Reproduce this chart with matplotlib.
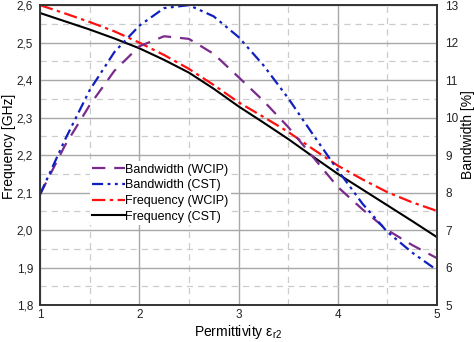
import numpy as np
import matplotlib
matplotlib.use("Agg")
import matplotlib.pyplot as plt
from matplotlib.ticker import FuncFormatter, MultipleLocator

plt.rcParams['font.family'] = ['Liberation Sans', 'DejaVu Sans']
plt.rcParams['mathtext.fontset'] = 'custom'
plt.rcParams['mathtext.rm'] = 'Liberation Sans'
plt.rcParams['mathtext.it'] = 'Liberation Sans:italic'

# permittivity sweep
eps = [1, 1.25, 1.5, 1.75, 2, 2.25, 2.5, 2.75, 3, 3.25, 3.5, 3.75, 4, 4.25, 4.5, 4.75, 5]

# bandwidth [%]
bw_wcip = [7.95, 9.25, 10.33, 11.25, 11.9, 12.17, 12.1, 11.7, 11.08, 10.45, 9.75, 8.95, 8.15, 7.55, 7.0, 6.6, 6.25]
bw_cst = [7.95, 9.4, 10.73, 11.75, 12.45, 12.92, 13.0, 12.7, 12.15, 11.4, 10.52, 9.55, 8.6, 7.7, 6.95, 6.4, 5.93]

# resonant frequency [GHz]
f_wcip = [2.600, 2.578, 2.555, 2.530, 2.500, 2.467, 2.430, 2.387, 2.341, 2.302, 2.262, 2.216, 2.172, 2.135, 2.101, 2.074, 2.051]
f_cst = [2.579, 2.557, 2.535, 2.511, 2.485, 2.454, 2.420, 2.377, 2.330, 2.287, 2.243, 2.196, 2.150, 2.108, 2.066, 2.024, 1.981]

fig = plt.figure(figsize=(4.74, 3.42), dpi=100)
ax = fig.add_axes([0.0844, 0.108, 0.8376, 0.877])
ax2 = ax.twinx()

l1, = ax2.plot(eps, bw_wcip, color='#7a2a8c', lw=1.6, dashes=(6, 4))
l2, = ax2.plot(eps, bw_cst, color='#1020c0', lw=1.6, dashes=(5, 2, 1.3, 2, 1.3, 2))
l3, = ax.plot(eps, f_wcip, color='#ff1010', lw=1.6, dashes=(6, 2, 1.5, 2))
l4, = ax.plot(eps, f_cst, color='black', lw=1.5)

ax.set_xlim(1, 5)
ax.set_ylim(1.8, 2.6)
ax2.set_ylim(5, 13)

ax.xaxis.set_major_locator(MultipleLocator(1))
ax.xaxis.set_minor_locator(MultipleLocator(0.5))
ax.yaxis.set_major_locator(MultipleLocator(0.1))
ax.yaxis.set_minor_locator(MultipleLocator(0.05))
ax2.yaxis.set_major_locator(MultipleLocator(1))

ax.yaxis.set_major_formatter(FuncFormatter(lambda v, p: f"{v:.1f}".replace('.', ',')))
ax.xaxis.set_major_formatter(FuncFormatter(lambda v, p: f"{v:.0f}"))

ax.grid(which='major', color='#a8a8a8', lw=1.0, ls='-')
ax.grid(which='minor', color='#cccccc', lw=0.9, ls=(0, (5, 4)))
ax.set_axisbelow(True)

for a in (ax, ax2):
    a.tick_params(which='both', length=0, labelsize=8.5, colors='#222222')
    for s in a.spines.values():
        s.set_color('#333333')
        s.set_linewidth(1.2)
ax.tick_params(axis='x', pad=3)
ax.tick_params(axis='y', pad=5)
ax2.tick_params(axis='y', pad=6)

ax.set_ylabel('Frequency [GHz]', fontsize=10, va='center')
ax.yaxis.set_label_coords(-0.078, 0.53)
ax2.set_ylabel('Bandwidth [%]', fontsize=10, va='center')
ax2.yaxis.set_label_coords(1.077, 0.57)
ax.set_xlabel('Permittivity ε$_{\\mathrm{r2}}$', fontsize=10, va='baseline')
ax.xaxis.set_label_coords(0.5, -0.103)

leg = ax2.legend([l1, l2, l3, l4],
                 ['Bandwidth (WCIP)', 'Bandwidth (CST)', 'Frequency (WCIP)', 'Frequency (CST)'],
                 loc='upper left', bbox_to_anchor=(0.125, 0.48), frameon=True,
                 fontsize=9, handlelength=2.6, handletextpad=0.05,
                 labelspacing=0.3, borderpad=0.2, borderaxespad=0, fancybox=False)
leg.get_frame().set_edgecolor('none')
leg.get_frame().set_facecolor('white')
leg.get_frame().set_alpha(1)

fig.savefig('out.png', dpi=100)
